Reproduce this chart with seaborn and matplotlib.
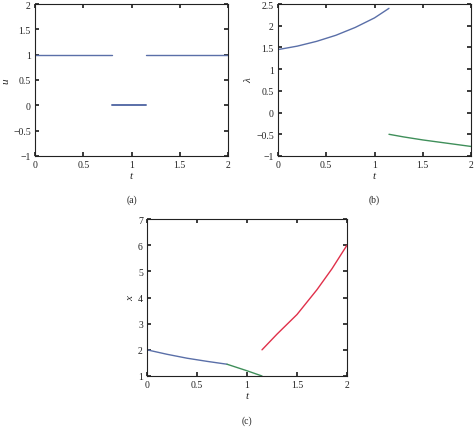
import matplotlib
matplotlib.use("Agg")
import matplotlib.pyplot as plt
import seaborn as sns
import pandas as pd

sns.set_theme(style="white")
plt.rcParams['font.family'] = ['Liberation Serif', 'DejaVu Serif']

BLUE = "#5a6fa8"; GREEN = "#3f8f5a"; RED = "#e0304a"

u_t1 = [0, 0.8]; u_v1 = [1, 1]
u_t2 = [0.8, 1.15]; u_v2 = [0, 0]
u_t3 = [1.15, 2]; u_v3 = [1, 1]

lam_t1 = [0, 0.2, 0.4, 0.6, 0.8, 1.0, 1.15]
lam_v1 = [1.45, 1.53, 1.64, 1.78, 1.96, 2.18, 2.4]
lam_t2 = [1.15, 1.3, 1.5, 1.7, 1.9, 2.0]
lam_v2 = [-0.5, -0.56, -0.63, -0.69, -0.75, -0.78]

x_t1 = [0, 0.2, 0.4, 0.6, 0.8]; x_v1 = [2.0, 1.83, 1.68, 1.56, 1.45]
x_t2 = [0.8, 1.0, 1.15]; x_v2 = [1.45, 1.2, 1.0]
x_t3 = [1.15, 1.3, 1.5, 1.7, 1.85, 2.0]; x_v3 = [2.0, 2.6, 3.35, 4.3, 5.1, 6.0]

fig = plt.figure(figsize=(4.74, 4.39), dpi=100)
W, H = 474, 439
def ax_at(x0, y0, x1, y1):
    return fig.add_axes([x0 / W, 1 - y1 / H, (x1 - x0) / W, (y1 - y0) / H])

axa = ax_at(35, 5, 228, 157)
axb = ax_at(278, 5, 471, 157)
axc = ax_at(147, 220, 347, 377)

def line(ax, t, v, c, lw=1.0):
    sns.lineplot(x=t, y=v, ax=ax, color=c, lw=lw, sort=False, estimator=None)

line(axa, u_t1, u_v1, BLUE); line(axa, u_t2, u_v2, BLUE, 1.4); line(axa, u_t3, u_v3, BLUE)
line(axb, lam_t1, lam_v1, BLUE); line(axb, lam_t2, lam_v2, GREEN)
line(axc, x_t1, x_v1, BLUE); line(axc, x_t2, x_v2, GREEN); line(axc, x_t3, x_v3, RED)

cfg = [(axa, (-1, 2), [-1, -0.5, 0, 0.5, 1, 1.5, 2], "u", "(a)"),
       (axb, (-1, 2.5), [-1, -0.5, 0, 0.5, 1, 1.5, 2, 2.5], "λ", "(b)"),
       (axc, (1, 7), [1, 2, 3, 4, 5, 6, 7], "x", "(c)")]
for ax, yl, yt, lab, cap in cfg:
    ax.set_xlim(0, 2); ax.set_ylim(*yl)
    ax.set_xticks([0, 0.5, 1, 1.5, 2]); ax.set_xticklabels(["0", "0.5", "1", "1.5", "2"])
    ax.set_yticks(yt); ax.set_yticklabels([f"{v:g}".replace("-", "−") for v in yt])
    ax.tick_params(labelsize=7, direction="in", length=3, top=True, right=True, pad=3,
                   bottom=True, left=True, colors="#222222")
    for s in ax.spines.values():
        s.set_color("#222222"); s.set_linewidth(0.8)
    ax.set_xlabel("t", fontsize=8, style="italic", labelpad=1)
    ax.set_ylabel(lab, fontsize=8, style="italic", labelpad=2)
    ax.text(0.5, -0.3, cap, transform=ax.transAxes, ha="center", fontsize=7)

fig.savefig("out.png", dpi=100)
